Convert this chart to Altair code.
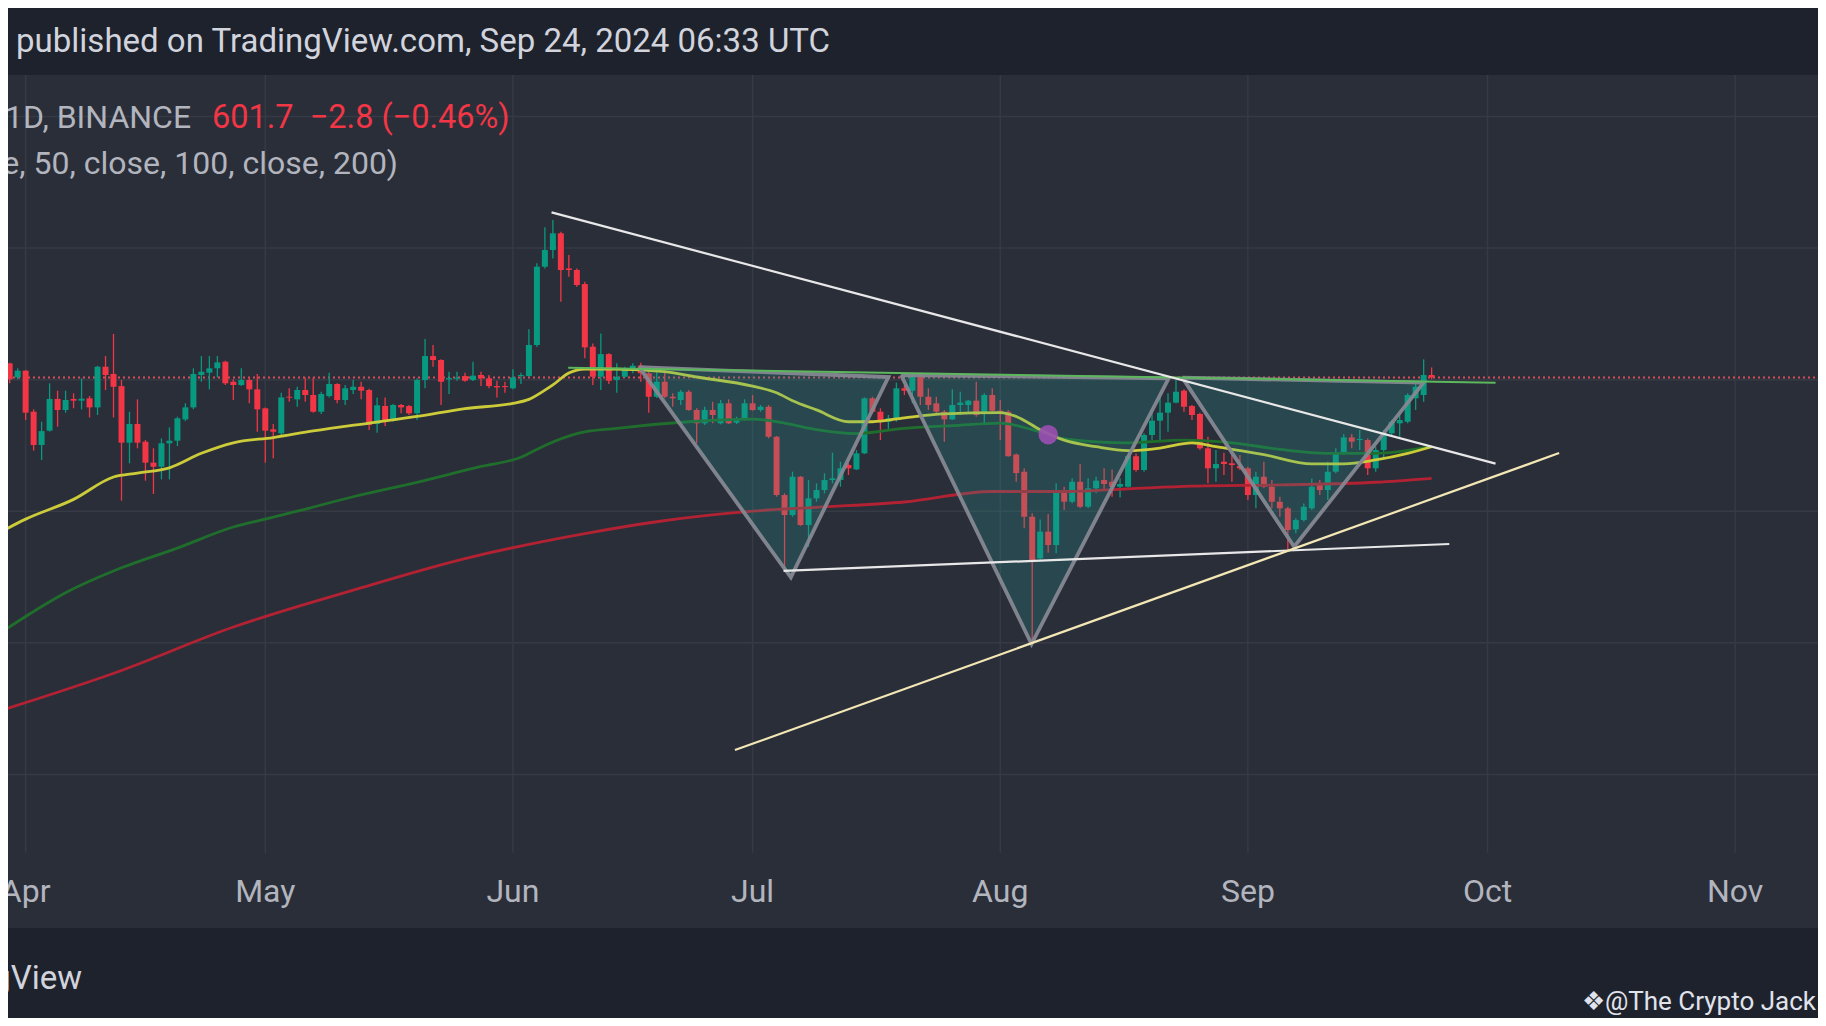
import altair as alt
import pandas as pd

W, H = 1810, 1010

BG = "#2a2e39"
BAND = "#1e222d"
GRID = "#363a45"
UP = "#089981"
DOWN = "#f23645"
TXT = "#b2b5be"
FONT = "Roboto"

# ---------------- daily candles BNBUSDT (open, high, low, close) ----------------
mar_ohlc = [  # from 2024-03-29
    (594.6, 613.6, 583.2, 612.4), (612.4, 612.9, 597.2, 600.2), (601.7, 608.6, 600.2, 606.8),
]
apr_ohlc = [
    (606.8, 607.3, 569.3, 574.9), (575.6, 577.4, 546.0, 550.3), (550.3, 568.0, 538.9, 560.9),
    (561.2, 597.2, 560.5, 585.3), (585.3, 591.6, 564.2, 576.9), (576.9, 591.6, 574.9, 584.5),
    (585.3, 589.6, 578.2, 584.0), (584.0, 601.0, 577.4, 585.5), (585.8, 587.5, 571.3, 578.9),
    (578.9, 610.5, 573.1, 609.8), (609.8, 617.9, 592.1, 603.5), (604.3, 634.7, 571.3, 594.6),
    (595.1, 599.7, 508.0, 552.1), (552.1, 575.6, 536.4, 566.3), (566.3, 585.0, 547.8, 552.1),
    (552.8, 554.1, 523.2, 536.9), (536.9, 547.8, 513.1, 533.8), (533.8, 555.4, 524.2, 551.6),
    (551.6, 563.7, 524.2, 553.6), (553.6, 571.8, 549.5, 570.6), (569.8, 582.0, 568.5, 578.9),
    (578.9, 608.6, 577.5, 604.3), (603.5, 617.9, 598.4, 606.0), (605.3, 617.9, 592.6, 608.6),
    (608.6, 617.9, 601.7, 613.1), (613.6, 614.4, 596.0, 597.2), (598.4, 600.2, 584.5, 595.9),
    (595.9, 608.6, 595.1, 599.7), (599.7, 601.7, 582.0, 592.6), (592.6, 604.3, 560.4, 577.4),
]
may_ohlc = [
    (578.2, 578.9, 536.9, 561.2), (562.2, 566.3, 540.2, 560.4), (559.2, 590.1, 558.0, 586.5),
    (587.0, 593.4, 583.2, 586.3), (585.0, 594.6, 579.4, 592.1), (592.1, 601.7, 583.2, 588.3),
    (588.3, 601.7, 574.9, 575.6), (575.6, 590.8, 573.9, 589.1), (587.5, 605.3, 586.5, 596.7),
    (596.7, 597.2, 582.0, 584.5), (584.5, 595.9, 580.7, 593.4), (592.1, 599.7, 589.1, 594.6),
    (594.6, 598.4, 585.0, 591.6), (592.1, 593.0, 561.7, 565.5), (566.3, 586.5, 559.7, 580.5),
    (580.0, 586.5, 564.7, 569.3), (569.3, 581.5, 568.0, 580.7), (580.7, 581.5, 574.4, 578.9),
    (579.9, 580.7, 573.1, 574.4), (574.4, 601.0, 569.3, 599.7), (599.7, 630.9, 593.4, 617.9),
    (617.9, 626.3, 609.8, 614.9), (614.9, 615.4, 580.7, 598.4), (600.2, 606.0, 589.1, 601.2),
    (600.7, 606.0, 599.2, 601.5), (602.7, 605.3, 598.4, 599.2), (599.7, 613.6, 599.0, 603.0),
    (603.5, 606.0, 595.1, 601.0), (601.0, 603.5, 593.4, 595.1), (595.1, 599.2, 586.5, 594.1),
    (595.1, 598.4, 590.1, 594.3),
]
jun_ohlc = [
    (593.4, 607.8, 592.6, 601.7), (602.7, 605.3, 596.7, 603.5), (602.7, 638.2, 602.2, 626.3),
    (626.3, 688.4, 625.0, 685.8), (685.8, 715.7, 684.5, 698.5), (698.5, 721.3, 692.1, 711.2),
    (711.2, 712.4, 659.2, 683.3), (684.5, 694.7, 678.2, 683.3), (683.3, 684.5, 670.6, 671.9),
    (672.6, 674.4, 616.2, 624.5), (625.0, 627.5, 595.9, 602.2), (602.2, 635.1, 592.1, 619.4),
    (619.4, 620.0, 596.7, 599.2), (599.7, 612.4, 590.1, 602.2), (602.2, 609.8, 601.5, 608.5),
    (608.5, 612.4, 604.8, 610.6), (610.6, 612.9, 598.4, 604.8), (604.8, 607.3, 574.9, 587.0),
    (587.0, 608.5, 586.0, 598.4), (598.4, 607.3, 585.8, 587.0), (587.0, 589.6, 579.4, 585.8),
    (584.5, 592.1, 580.7, 590.8), (590.8, 592.1, 576.4, 576.9), (576.9, 578.2, 551.6, 566.8),
    (566.8, 579.4, 565.5, 576.9), (576.9, 583.2, 566.8, 573.1), (566.8, 584.5, 566.0, 582.0),
    (582.0, 585.0, 566.3, 566.8), (567.3, 571.8, 566.3, 569.3), (569.3, 585.0, 568.8, 582.0),
]
jul_ohlc = [
    (582.0, 588.3, 576.4, 576.9), (576.9, 580.7, 575.6, 579.4), (579.4, 580.7, 555.4, 556.6),
    (556.6, 557.1, 511.0, 512.3), (512.3, 513.6, 455.3, 497.1), (497.1, 530.0, 495.8, 526.2),
    (526.2, 526.7, 488.8, 489.5), (489.5, 523.7, 473.0, 509.8), (509.8, 521.2, 507.2, 516.1),
    (516.1, 528.8, 513.6, 523.7), (523.7, 544.5, 521.2, 525.0), (523.7, 537.6, 518.6, 532.6),
    (535.1, 536.4, 527.5, 532.6), (531.8, 546.5, 531.3, 544.0), (544.0, 586.5, 543.5, 585.8),
    (585.8, 587.0, 574.4, 575.6), (575.6, 578.2, 554.1, 568.0), (568.0, 573.1, 561.7, 570.6),
    (570.6, 597.7, 568.0, 593.4), (593.4, 595.9, 588.3, 591.6), (591.6, 604.8, 582.0, 603.5),
    (604.8, 605.3, 580.7, 587.0), (587.0, 593.4, 576.9, 580.7), (582.0, 587.0, 574.4, 575.6),
    (575.6, 576.9, 552.8, 569.8), (569.8, 592.6, 569.3, 580.7), (580.7, 590.8, 573.1, 582.5),
    (580.7, 584.5, 574.4, 584.0), (584.0, 598.4, 571.8, 573.1), (574.4, 589.6, 566.8, 588.3),
    (588.3, 593.4, 574.4, 576.4),
]
aug_ohlc = [
    (576.4, 584.5, 554.1, 575.6), (575.6, 576.9, 541.3, 541.8), (543.1, 543.9, 522.4, 529.0),
    (530.0, 532.6, 487.0, 495.8), (495.8, 498.4, 400.1, 462.9), (464.2, 493.8, 463.4, 484.5),
    (484.5, 497.9, 468.5, 474.3), (474.3, 521.2, 468.0, 516.1), (516.1, 518.6, 500.9, 507.2),
    (507.2, 525.0, 506.0, 522.4), (522.4, 535.9, 502.2, 503.4), (503.4, 525.0, 502.2, 517.4),
    (517.4, 526.2, 513.6, 523.2), (523.7, 532.6, 516.6, 520.7), (522.4, 531.8, 511.0, 518.6),
    (518.6, 525.0, 510.5, 520.7), (518.6, 543.1, 518.1, 541.8), (541.8, 543.9, 530.0, 531.3),
    (531.3, 559.2, 530.0, 557.9), (557.9, 574.4, 554.1, 568.8), (568.8, 587.0, 552.8, 574.9),
    (574.9, 589.6, 560.4, 582.5), (582.5, 599.7, 582.0, 590.8), (591.6, 592.6, 575.6, 579.4),
    (579.9, 580.7, 569.3, 573.1), (573.9, 574.9, 546.5, 547.8), (547.8, 556.6, 521.2, 532.6),
    (532.6, 546.5, 522.4, 535.9), (537.6, 544.5, 527.5, 535.9), (536.4, 544.0, 522.4, 535.1),
    (534.3, 542.7, 531.3, 532.6),
]
sep_ohlc = [
    (532.6, 533.8, 508.5, 512.3), (512.3, 530.0, 502.2, 526.2), (526.2, 537.6, 517.4, 518.6),
    (518.6, 523.7, 502.2, 507.2), (507.2, 511.0, 495.8, 502.2), (502.2, 503.4, 471.0, 485.7),
    (486.2, 494.6, 483.2, 493.3), (493.3, 505.9, 492.1, 503.4), (502.2, 524.9, 500.9, 518.6),
    (519.9, 523.7, 512.3, 516.1), (516.1, 537.6, 508.5, 530.0), (530.0, 547.8, 528.8, 544.0),
    (544.0, 558.7, 542.7, 556.1), (556.1, 558.7, 547.8, 552.8), (554.1, 561.7, 546.5, 554.9),
    (554.1, 555.4, 527.5, 532.6), (532.6, 549.0, 530.0, 546.5), (546.5, 561.7, 538.9, 559.2),
    (559.2, 569.3, 556.6, 568.0), (566.8, 573.1, 556.6, 569.3), (568.0, 589.6, 566.8, 588.3),
    (585.8, 597.2, 576.9, 594.6), (588.3, 615.4, 583.2, 603.5), (603.5, 609.3, 600.2, 601.7),
]
month_starts = ["2024-03-29", "2024-04-01", "2024-05-01", "2024-06-01",
                "2024-07-01", "2024-08-01", "2024-09-01"]
month_rows = [mar_ohlc, apr_ohlc, may_ohlc, jun_ohlc, jul_ohlc, aug_ohlc, sep_ohlc]

# ---------------- moving averages (50 / 100 / 200) ----------------
ma50_pts = [
    ("2024-03-27", 478), ("2024-04-01", 494), ("2024-04-07", 509), ("2024-04-12", 526),
    ("2024-04-15", 529), ("2024-04-19", 533), ("2024-04-23", 544), ("2024-04-27", 552),
    ("2024-05-02", 556), ("2024-05-07", 561), ("2024-05-14", 567), ("2024-05-20", 572),
    ("2024-05-26", 578), ("2024-06-01", 582), ("2024-06-03", 585), ("2024-06-05", 592),
    ("2024-06-06", 596), ("2024-06-08", 605), ("2024-06-10", 608), ("2024-06-14", 608),
    ("2024-06-20", 606), ("2024-06-24", 602), ("2024-07-01", 595), ("2024-07-04", 590),
    ("2024-07-06", 584), ("2024-07-09", 577), ("2024-07-13", 568), ("2024-07-16", 568),
    ("2024-07-20", 571), ("2024-07-25", 574), ("2024-08-01", 575), ("2024-08-03", 572),
    ("2024-08-06", 562), ("2024-08-09", 554), ("2024-08-13", 549), ("2024-08-17", 546),
    ("2024-08-21", 548), ("2024-08-25", 552), ("2024-08-28", 549), ("2024-09-03", 543),
    ("2024-09-09", 536), ("2024-09-13", 536), ("2024-09-17", 539), ("2024-09-21", 544),
    ("2024-09-24", 549),
]
ma100_pts = [
    ("2024-03-27", 400), ("2024-04-01", 420), ("2024-04-06", 438), ("2024-04-13", 457),
    ("2024-04-20", 472), ("2024-04-27", 488), ("2024-05-01", 494), ("2024-05-05", 500),
    ("2024-05-12", 511), ("2024-05-20", 522), ("2024-05-28", 534), ("2024-06-02", 541),
    ("2024-06-05", 550), ("2024-06-09", 559), ("2024-06-14", 563), ("2024-06-23", 568),
    ("2024-07-01", 570), ("2024-07-05", 567), ("2024-07-09", 562), ("2024-07-14", 559),
    ("2024-07-20", 563), ("2024-07-26", 565), ("2024-08-01", 567), ("2024-08-05", 562),
    ("2024-08-09", 555), ("2024-08-17", 552), ("2024-08-24", 554), ("2024-08-30", 552),
    ("2024-09-05", 547), ("2024-09-11", 544), ("2024-09-17", 544), ("2024-09-24", 549),
]
ma200_pts = [
    ("2024-03-27", 345), ("2024-04-13", 379), ("2024-04-27", 412), ("2024-05-12", 440),
    ("2024-05-26", 464), ("2024-06-10", 483), ("2024-06-19", 492), ("2024-07-01", 500),
    ("2024-07-09", 503), ("2024-07-20", 507), ("2024-07-31", 515), ("2024-08-09", 515),
    ("2024-08-17", 517), ("2024-08-25", 519), ("2024-09-05", 520), ("2024-09-17", 522),
    ("2024-09-24", 525),
]

# ---------------- drawings ----------------
desc_line = [("2024-06-05T20:00", 727.1), ("2024-10-02T00:00", 536.2)]
low_line = [("2024-07-04T21:00", 454.6), ("2024-09-26T05:00", 475.1)]
support_line = [("2024-06-28T19:00", 318.5), ("2024-10-09T23:00", 544.2)]
neck_line = [("2024-06-07T22:00", 609.1), ("2024-10-02T00:00", 597.7)]
tri1 = [("2024-06-16T19:00", 609.5), ("2024-07-05T19:00", 449.7), ("2024-07-18T00:00", 602.0)]
tri2 = [("2024-07-19T14:00", 603.5), ("2024-08-04T22:00", 399.1), ("2024-08-22T02:00", 601.0)]
tri3 = [("2024-08-23T19:00", 601.5), ("2024-09-06T19:00", 473.0), ("2024-09-23T00:00", 597.7)]
marker_pt = [("2024-08-07T00:00", 558.2)]

last_price = 601.7
grid_prices = [300, 400, 500, 600, 700, 800]
months = ["2024-04-01", "2024-05-01", "2024-06-01", "2024-07-01",
          "2024-08-01", "2024-09-01", "2024-10-01", "2024-11-01"]
month_names = ["Apr", "May", "Jun", "Jul", "Aug", "Sep", "Oct", "Nov"]

# ---------------- scales (pixel calibration of the reference) ----------------
apr1 = pd.Timestamp("2024-04-01", tz="UTC")
PX_DAY, APR1_X = 8.033, 20.7
def ref_x_to_ms(px):
    return int((apr1 + pd.Timedelta(days=(px - APR1_X) / PX_DAY)).value // 10**6)
x_scale = alt.Scale(type="utc", domain=[ref_x_to_ms(8), ref_x_to_ms(1818)])
y_scale = alt.Scale(domain=[114.9, 882.4], nice=False, zero=False)
GRID_TOP, GRID_BOTTOM = 831.5, 240.5

def X(f="d"):
    return alt.X(f"{f}:T", scale=x_scale, axis=None)
def Y(f):
    return alt.Y(f"{f}:Q", scale=y_scale, axis=None)
def iso(s):
    return s if "T" in s else s + "T00:00"

# candles frame
rows = []
for start, data in zip(month_starts, month_rows):
    for i, (o, h, l, c) in enumerate(data):
        d = pd.Timestamp(start) + pd.Timedelta(days=i)
        rows.append({"d": d.strftime("%Y-%m-%dT00:00:00Z"), "o": o, "h": h, "l": l, "c": c,
                     "dir": "up" if c >= o else "down"})
candles = pd.DataFrame(rows)
cscale = alt.Scale(domain=["up", "down"], range=[UP, DOWN])

def pts_df(pts, **extra):
    df = pd.DataFrame({"d": [iso(a) + ":00Z" for a, _ in pts], "p": [b for _, b in pts]})
    for k, v in extra.items():
        df[k] = v
    return df

layers = []

# grid
layers.append(alt.Chart(pd.DataFrame({"p": grid_prices})).mark_rule(color=GRID, strokeWidth=1.5)
              .encode(y=Y("p"), x=alt.value(0), x2=alt.value(W)))
layers.append(alt.Chart(pd.DataFrame({"d": [m + "T00:00:00Z" for m in months],
                                      "t": [GRID_TOP] * len(months), "b": [GRID_BOTTOM] * len(months)}))
              .mark_rule(color=GRID, strokeWidth=1.5)
              .encode(x=X(), y=Y("t"), y2="b:Q"))

# last price dotted line
layers.append(alt.Chart(pd.DataFrame({"p": [last_price]}))
              .mark_rule(color="#f7525f", strokeWidth=2, strokeDash=[2, 3], opacity=0.85)
              .encode(y=Y("p"), x=alt.value(0), x2=alt.value(W)))

# candles
layers.append(alt.Chart(candles).mark_rule(strokeWidth=1.3)
              .encode(x=X(), y=Y("l"), y2="h:Q", color=alt.Color("dir:N", scale=cscale, legend=None)))
layers.append(alt.Chart(candles).mark_bar(size=6)
              .encode(x=X(), y=Y("o"), y2="c:Q", color=alt.Color("dir:N", scale=cscale, legend=None)))

# moving averages
for pts, col in [(ma200_pts, "#b22233"), (ma100_pts, "#1f6e2c"), (ma50_pts, "#cccc3a")]:
    layers.append(alt.Chart(pts_df(pts)).mark_line(color=col, strokeWidth=2.8, interpolate="monotone")
                  .encode(x=X(), y=Y("p")))

# triangles (fill + outline)
fill_rows, out_rows = [], []
for k, tri in enumerate([tri1, tri2, tri3]):
    (dl, pl), (db, pb), (dr, pr) = tri
    tl, tb, tr = (pd.Timestamp(iso(v)).value for v in (dl, db, dr))
    top_at_b = pl + (pr - pl) * (tb - tl) / (tr - tl)
    for d, lo, hi in [(dl, pl, pl), (db, pb, top_at_b), (dr, pr, pr)]:
        fill_rows.append({"d": iso(d) + ":00Z", "lo": lo, "hi": hi, "tri": k})
    for s, (d, p) in enumerate([tri[0], tri[1], tri[2], tri[0]]):
        out_rows.append({"d": iso(d) + ":00Z", "p": p, "tri": k, "s": s})
layers.append(alt.Chart(pd.DataFrame(fill_rows)).mark_area(color="#26a69a", opacity=0.22)
              .encode(x=X(), y=Y("lo"), y2="hi:Q", detail="tri:N"))
layers.append(alt.Chart(pd.DataFrame(out_rows)).mark_line(color="#858892", strokeWidth=3.8, opacity=0.95)
              .encode(x=X(), y=Y("p"), detail="tri:N", order="s:Q"))

# trend lines
for pts, col, sw in [(neck_line, "#5cb85c", 2), (desc_line, "#e8e8e8", 2.2),
                     (low_line, "#e8e8e8", 2.2), (support_line, "#f3e7b5", 2.2)]:
    layers.append(alt.Chart(pts_df(pts)).mark_line(color=col, strokeWidth=sw)
                  .encode(x=X(), y=Y("p")))

# marker circle
layers.append(alt.Chart(pts_df(marker_pt)).mark_circle(color="#9a4fb3", opacity=0.9, size=380)
              .encode(x=X(), y=Y("p")))

# header / footer bands
layers.append(alt.Chart(pd.DataFrame({"a": [0]})).mark_rect(color=BAND)
              .encode(x=alt.value(0), x2=alt.value(W), y=alt.value(0), y2=alt.value(67)))
layers.append(alt.Chart(pd.DataFrame({"a": [0]})).mark_rect(color=BAND)
              .encode(x=alt.value(0), x2=alt.value(W), y=alt.value(920), y2=alt.value(H)))

def label(text, x, y, align="left", size=33, color=TXT):
    return (alt.Chart(pd.DataFrame({"t": [text]}))
            .mark_text(align=align, baseline="middle", font=FONT, fontSize=size, color=color)
            .encode(text="t:N", x=alt.value(x), y=alt.value(y)))

NB = "\u00a0"
layers.append(label("o published on TradingView.com, Sep 24, 2024 06:33 UTC", 822, 34, "right", 33, "#d1d4dc"))
layers.append(label("1D, BINANCE", -3, 110, "left", 32))
layers.append(label("601.7" + NB + NB + "\u22122.8" + NB + "(\u22120.46%)", 204, 110, "left", 32.5, DOWN))
layers.append(label("e, 50, close, 100, close, 200)", 390, 156, "right", 32))
layers.append(label("gView", 74, 971, "right", 33, "#d1d4dc"))
layers.append(label("@The Crypto Jack", 1808, 994, "right", 26, "#e0e3eb"))
layers.append(label("\u2756", 1585, 994, "center", 26, "#e0e3eb"))

# month labels
layers.append(alt.Chart(pd.DataFrame({"d": [m + "T00:00:00Z" for m in months], "n": month_names}))
              .mark_text(align="center", baseline="middle", font=FONT, fontSize=32, color=TXT)
              .encode(x=X(), y=alt.value(884), text="n:N"))

chart = (alt.layer(*layers)
         .properties(width=W, height=H, background=BG, padding=0,
                     autosize=alt.AutoSizeParams(type="none"))
         .configure_view(strokeWidth=0, fill=BG))

chart.save("out.html", embed_options={"renderer": "svg", "actions": False})
